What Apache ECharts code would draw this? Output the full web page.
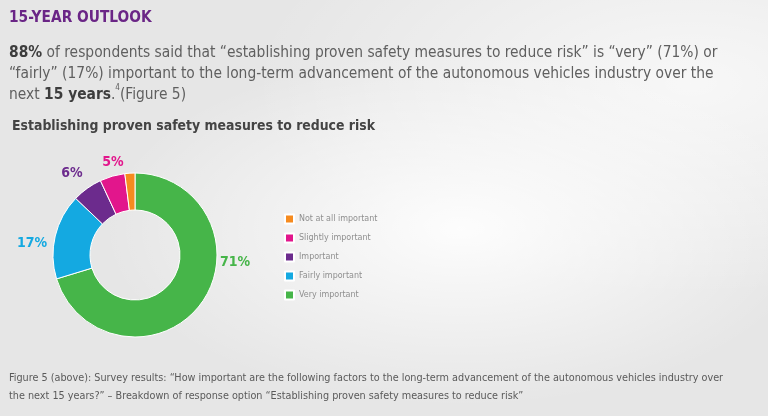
<!DOCTYPE html>
<html>
<head>
<meta charset="utf-8">
<script src="https://cdn.jsdelivr.net/npm/echarts@6/dist/echarts.min.js"></script>
<style>
html,body{margin:0;padding:0;width:768px;height:416px;overflow:hidden;}
body{background:
 radial-gradient(ellipse at 60% 55%, rgba(255,255,255,0.9) 0%, rgba(255,255,255,0) 55%),
 radial-gradient(ellipse at 90% 20%, rgba(255,255,255,0.7) 0%, rgba(255,255,255,0) 45%),
 #e6e6e6;}
#chart{width:768px;height:416px;}
</style>
</head>
<body>
<div id="chart"></div>
<script>
var categories = ['Very important','Fairly important','Important','Slightly important','Not at all important'];
var values = [71, 17, 6, 5, 2];
var colors = ['#46b549','#14a9e1','#6c2b8d','#e2168c','#f68b1f'];
var showLabel = [true, true, true, true, false];
var legendOrder = ['Not at all important','Slightly important','Important','Fairly important','Very important'];
var labelPos = [[235, 262], [32, 243], [72, 173], [113, 162], null];

var FONT = "'Liberation Sans Narrow','DejaVu Sans Condensed','Roboto Condensed',Roboto,sans-serif";

var data = categories.map(function(c, i){
  return {
    name: c, value: values[i],
    itemStyle: {color: colors[i]},
    label: {show: showLabel[i], color: colors[i]}
  };
});

var chart = echarts.init(document.getElementById('chart'));
chart.setOption({
  backgroundColor: 'transparent',
  textStyle: {fontFamily: FONT},
  title: [
    {text: '15-YEAR OUTLOOK', left: 9, top: 11, padding: 0,
     textStyle: {fontFamily: FONT, fontSize: 15.3, fontWeight: 'bold', color: '#6a2586'}},
    {text: '{b|88%} of respondents said that \u201cestablishing proven safety measures to reduce risk\u201d is \u201cvery\u201d (71%) or\n\u201cfairly\u201d (17%) important to the long-term advancement of the autonomous vehicles industry over the\nnext {b|15 years}.{s|4}(Figure 5)',
     left: 9, top: 42, padding: 0,
     textStyle: {fontFamily: FONT, fontSize: 15.4, fontWeight: 'normal', color: '#5f5f5f', lineHeight: 21,
       rich: {
         b: {fontFamily: FONT, fontSize: 15.4, fontWeight: 'bold', color: '#3d3d3d', lineHeight: 21},
         s: {fontFamily: FONT, fontSize: 8, fontWeight: 'normal', color: '#5f5f5f', verticalAlign: 'top', lineHeight: 21}
       }}},
    {text: 'Establishing proven safety measures to reduce risk', left: 12, top: 119, padding: 0,
     textStyle: {fontFamily: FONT, fontSize: 13.9, fontWeight: 'bold', color: '#444444'}},
    {text: 'Figure 5 (above): Survey results: \u201cHow important are the following factors to the long-term advancement of the autonomous vehicles industry over\nthe next 15 years?\u201d \u2013 Breakdown of response option \u201cEstablishing proven safety measures to reduce risk\u201d',
     left: 9, top: 369, padding: 0,
     textStyle: {fontFamily: FONT, fontSize: 10.76, fontWeight: 'normal', color: '#5a5a5a', lineHeight: 18}}
  ],
  legend: {
    orient: 'vertical', left: 284, top: 213.5, padding: 0,
    data: legendOrder,
    icon: 'rect', itemWidth: 9, itemHeight: 9, itemGap: 8,
    textStyle: {fontFamily: FONT, fontSize: 8.9, color: '#8f8f8f', lineHeight: 9, height: 9},
    selectedMode: false
  },
  series: [{
    type: 'pie',
    center: [135, 255],
    radius: [45, 82],
    startAngle: 90,
    clockwise: true,
    avoidLabelOverlap: false,
    silent: true,
    itemStyle: {borderColor: '#ffffff', borderWidth: 1},
    label: {show: true, position: 'outside', formatter: '{c}%', fontFamily: FONT,
            fontSize: 14, fontWeight: 'bold'},
    labelLine: {show: false},
    labelLayout: function(p){
      var pos = labelPos[p.dataIndex];
      if (!pos) return {};
      return {x: pos[0], y: pos[1], align: 'center', verticalAlign: 'middle'};
    },
    data: data
  }]
});
</script>
</body>
</html>
